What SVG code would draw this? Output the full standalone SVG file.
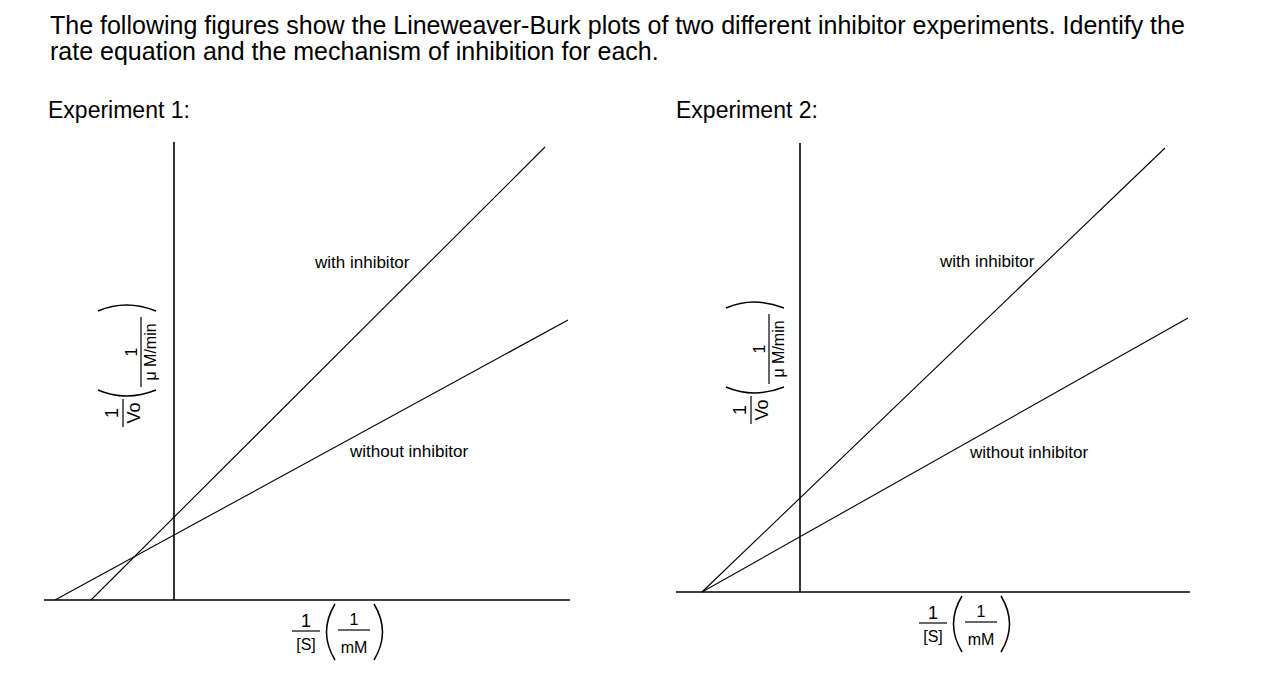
<svg xmlns="http://www.w3.org/2000/svg" width="1266" height="674" viewBox="0 0 1266 674">
<style>
text{font-family:"Liberation Sans",Arial,sans-serif;fill:#000}
.t{font-size:25px}
.e{font-size:23px}
.l{font-size:17px}
.n{font-size:18px}
.s{font-size:16px}
.ax{stroke:#000;stroke-width:1.6;fill:none}
.ln{stroke:#000;stroke-width:1.1;fill:none}
.p{stroke:#000;stroke-width:1.5;fill:none}
</style>
<rect width="1266" height="674" fill="#fff"/>
<text class="t" x="50" y="34">The following figures show the Lineweaver-Burk plots of two different inhibitor experiments. Identify the</text>
<text class="t" x="50" y="60">rate equation and the mechanism of inhibition for each.</text>
<g id="exp1">
<text class="e" x="48" y="118">Experiment 1:</text>
<line class="ax" x1="44" y1="600" x2="570" y2="600"/>
<line class="ax" x1="174" y1="142" x2="174" y2="600"/>
<g id="conn1">
<line class="ln" x1="91" y1="600" x2="545" y2="147"/>
<line class="ln" x1="55" y1="600" x2="568" y2="320"/>
</g>
<text class="l" x="315" y="268">with inhibitor</text>
<text class="l" x="350" y="457">without inhibitor</text>
<g id="ylab1">
<g transform="rotate(-90)">
<text class="n" x="-413" y="118" text-anchor="middle">1</text>
<line x1="-427" y1="123" x2="-399" y2="123" stroke="#000" stroke-width="1.2"/>
<text class="n" x="-413" y="140" text-anchor="middle">Vo</text>
<text class="s" x="-352" y="137" text-anchor="middle">1</text>
<line x1="-387" y1="141" x2="-317" y2="141" stroke="#000" stroke-width="1.2"/>
<text class="s" x="-352" y="156" text-anchor="middle">μ M/min</text>
</g>
<path class="p" d="M98,390 Q126,402 156,390"/>
<path class="p" d="M98,311 Q126,299 156,311"/>
</g>
<g id="xlab1">
<text class="n" x="306" y="627" text-anchor="middle">1</text>
<line x1="292" y1="631" x2="320" y2="631" stroke="#000" stroke-width="1.2"/>
<text class="s" x="306" y="650" text-anchor="middle">[S]</text>
<text class="s" x="354" y="625" text-anchor="middle">1</text>
<line x1="338" y1="630" x2="370" y2="630" stroke="#000" stroke-width="1.2"/>
<text class="s" x="354" y="653" text-anchor="middle">mM</text>
<path class="p" d="M335,604 Q318,632 335,660"/>
<path class="p" d="M374,604 Q391,632 374,660"/>
</g>
</g>
<g id="exp2">
<text class="e" x="676" y="118">Experiment 2:</text>
<line class="ax" x1="676" y1="592" x2="1190" y2="592"/>
<line class="ax" x1="800" y1="143" x2="800" y2="592"/>
<g id="conn2">
<line class="ln" x1="702" y1="592" x2="1165" y2="148"/>
<line class="ln" x1="702" y1="592" x2="1188" y2="318"/>
</g>
<text class="l" x="940" y="267">with inhibitor</text>
<text class="l" x="970" y="458">without inhibitor</text>
<g id="ylab2" transform="translate(628,-3)">
<g transform="rotate(-90)">
<text class="n" x="-413" y="118" text-anchor="middle">1</text>
<line x1="-427" y1="123" x2="-399" y2="123" stroke="#000" stroke-width="1.2"/>
<text class="n" x="-413" y="140" text-anchor="middle">Vo</text>
<text class="s" x="-352" y="137" text-anchor="middle">1</text>
<line x1="-387" y1="141" x2="-317" y2="141" stroke="#000" stroke-width="1.2"/>
<text class="s" x="-352" y="156" text-anchor="middle">μ M/min</text>
</g>
<path class="p" d="M98,390 Q126,402 156,390"/>
<path class="p" d="M98,311 Q126,299 156,311"/>
</g>
<g id="xlab2" transform="translate(627,-8)">
<text class="n" x="306" y="627" text-anchor="middle">1</text>
<line x1="292" y1="631" x2="320" y2="631" stroke="#000" stroke-width="1.2"/>
<text class="s" x="306" y="650" text-anchor="middle">[S]</text>
<text class="s" x="354" y="625" text-anchor="middle">1</text>
<line x1="338" y1="630" x2="370" y2="630" stroke="#000" stroke-width="1.2"/>
<text class="s" x="354" y="653" text-anchor="middle">mM</text>
<path class="p" d="M335,604 Q318,632 335,660"/>
<path class="p" d="M374,604 Q391,632 374,660"/>
</g>
</g>
</svg>
